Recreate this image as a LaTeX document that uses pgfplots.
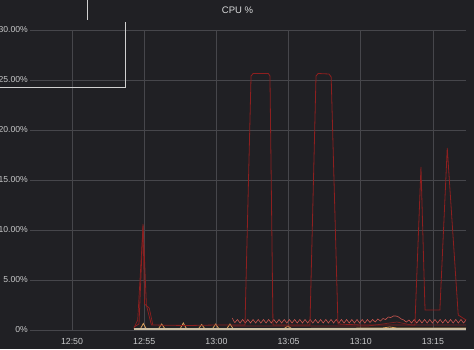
\documentclass[border=0pt]{standalone}
\usepackage{fontspec}
\setmainfont{Liberation Sans}
\usepackage{pgfplots}
\pgfplotsset{compat=1.18}
\definecolor{bg}{HTML}{202024}
\definecolor{gridc}{HTML}{46464B}
\definecolor{labc}{HTML}{C8C9CA}
\definecolor{titc}{HTML}{DADBDC}
\definecolor{sA}{HTML}{8E1F1F}
\definecolor{sB}{HTML}{C9554F}
\definecolor{sC}{HTML}{7A2222}
\definecolor{sD}{HTML}{D9A05B}
\definecolor{sE}{HTML}{CBBFA3}
\definecolor{wl}{HTML}{D0D0D0}
\begin{document}
\begin{tikzpicture}[x=1bp,y=1bp]
\useasboundingbox (0,0) rectangle (474,349);
\clip (0,0) rectangle (474,349);
\fill[bg] (0,0) rectangle (474,349);
\begin{axis}[
  at={(30bp,19bp)}, anchor=south west,
  width=436bp, height=300bp, scale only axis,
  xmin=47.09, xmax=77.29, ymin=0, ymax=30,
  axis line style={draw=none},
  major tick length=0pt, tick style={draw=none},
  grid=major, major grid style={color=gridc, line width=0.6bp},
  xtick={50,55,60,65,70,75},
  xticklabels={12:50,12:55,13:00,13:05,13:10,13:15},
  ytick={0,5,10,15,20,25,30},
  yticklabels={0\%,5.00\%,10.00\%,15.00\%,20.00\%,25.00\%,30.00\%},
  ticklabel style={text=labc},
  xticklabel style={font=\fontsize{8.8bp}{10bp}\selectfont, inner sep=0pt, anchor=north, yshift=-8.5bp},
  yticklabel style={font=\fontsize{8.6bp}{10bp}\selectfont, inner sep=0pt, anchor=east, xshift=-2bp},
  clip=true,
]
% orange with small bumps
\addplot[color=sD, line width=0.8bp] coordinates {
(54.29,0.15) (54.75,0.15) (54.94,0.65) (55.13,0.15) (56.0,0.15) (56.21,0.6) (56.42,0.15)
(57.5,0.15) (57.71,0.7) (57.92,0.15) (58.77,0.15) (58.98,0.55) (59.19,0.15) (59.74,0.15)
(59.95,0.6) (60.16,0.15) (60.73,0.15) (60.94,0.6) (61.15,0.15) (64.7,0.15) (64.95,0.4)
(65.2,0.15) (71.5,0.2) (72.0,0.3) (72.5,0.2) (77.29,0.2)};
% beige baseline
\addplot[color=sE, line width=1.8bp] coordinates {(54.29,0.1) (77.29,0.1)};
% dark red low line
\addplot[color=sC, line width=0.7bp] coordinates {
(61.1,0.4) (70.5,0.4) (71.5,0.6) (72.5,0.8) (73.5,0.5) (77.29,0.5)};
% wavy salmon line
\addplot[color=sB, line width=0.6bp, smooth] coordinates {
(61.10,1.2) (61.28,0.75) (61.46,1.05) (61.64,0.7) (61.82,1.05) (62.00,0.7)
(62.18,1.05) (62.36,0.7) (62.54,1.05) (62.72,0.7) (62.90,1.05) (63.08,0.7)
(63.26,1.05) (63.44,0.7) (63.62,1.05) (63.80,0.7) (63.98,1.05) (64.16,0.7)
(64.34,1.05) (64.52,0.7) (64.70,1.05) (64.88,0.7) (65.06,1.05) (65.24,0.7)
(65.42,1.05) (65.60,0.7) (65.78,1.05) (65.96,0.7) (66.14,1.05) (66.32,0.7)
(66.50,1.05) (66.68,0.7) (66.86,1.05) (67.04,0.7) (67.22,1.05) (67.40,0.7)
(67.58,1.05) (67.76,0.7) (67.94,1.05) (68.12,0.7) (68.30,1.05) (68.48,0.7)
(68.66,1.05) (68.84,0.7) (69.02,1.05) (69.20,0.7) (69.38,1.05) (69.56,0.7)
(69.74,1.05) (69.92,0.7) (70.10,1.05) (70.28,0.7) (70.46,1.05) (70.64,0.75)
(70.82,1.05) (71.00,0.8) (71.18,1.1) (71.36,0.9) (71.54,1.15) (71.72,1.05)
(71.90,1.3) (72.08,1.25) (72.26,1.4) (72.44,1.4) (72.62,1.3) (72.80,1.1)
(72.98,1.0) (73.16,0.8) (73.34,1.0) (73.52,0.7) (73.70,1.05) (73.88,0.7)
(74.06,1.05) (74.24,0.7) (74.42,1.05) (74.60,0.7) (74.78,1.05) (74.96,0.7)
(75.14,1.05) (75.32,0.7) (75.50,1.05) (75.68,0.7) (75.86,1.05) (76.04,0.7)
(76.22,1.05) (76.40,0.7) (76.58,1.05) (76.76,0.7) (76.94,1.05) (77.12,0.7)
(77.29,1.05)};
% secondary spike at 12:55
\addplot[color=sA, line width=0.7bp] coordinates {
(54.29,0.2) (54.55,1.0) (54.92,10.4) (55.02,2.6) (55.35,2.2) (55.6,0.5)};
% main dark red series
\addplot[color=sA, line width=0.8bp] coordinates {
(54.29,0.3) (54.64,0.6) (54.92,10.6) (55.15,2.5) (55.5,0.5) (58,0.45) (60,0.5)
(61.98,0.5) (62.40,25.4) (62.55,25.65) (63.60,25.65) (63.71,25.4) (63.92,0.5)
(66.48,0.5) (66.90,25.4) (67.05,25.65) (67.80,25.6) (67.95,25.3) (68.42,0.6)
(70,0.5) (73.75,0.5) (74.17,16.3) (74.45,2.0) (75.48,2.0) (75.99,18.2)
(76.75,1.5) (77.29,1.0)};
\end{axis}
\node[text=titc, font=\fontsize{9.5bp}{11bp}\selectfont] at (237.5,338.5) {CPU \%};
\draw[wl, line width=0.9bp] (87,349) -- (87,329);
\draw[wl, line width=0.9bp] (125,327) -- (125,262) -- (0,262);
\end{tikzpicture}
\end{document}
